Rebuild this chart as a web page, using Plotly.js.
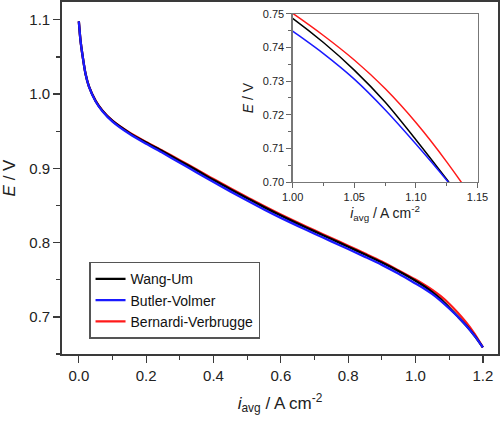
<!DOCTYPE html>
<html>
<head>
<meta charset="utf-8">
<script src="https://cdn.plot.ly/plotly-3.0.1.min.js"></script>
<style>
  html, body { margin: 0; padding: 0; background: #fff; }
  #chart { width: 500px; height: 423px; }
</style>
</head>
<body>
<div id="chart"></div>
<script>
// current density, A cm^-2
var iavg = [0, 0.005, 0.01, 0.02, 0.03, 0.05, 0.07, 0.1, 0.15, 0.2, 0.25, 0.3, 0.35, 0.4, 0.45, 0.5,
    0.55, 0.6, 0.65, 0.7, 0.75, 0.8, 0.85, 0.9, 0.95, 1.0, 1.025, 1.05, 1.075, 1.1, 1.125, 1.15, 1.175, 1.2];

// cell potential, V
var wangUm = [1.098, 1.072, 1.055, 1.027, 1.0103, 0.9906, 0.9777, 0.9638, 0.9478, 0.9348, 0.9226, 0.9100, 0.8973, 0.8843, 0.872, 0.8598,
    0.8478, 0.8364, 0.8256, 0.8151, 0.8048, 0.7944, 0.7839, 0.7732, 0.7615, 0.7487, 0.7415, 0.7333, 0.7238, 0.7126, 0.7008, 0.6886, 0.6749, 0.659];
var butlerVolmer = [1.098, 1.072, 1.055, 1.027, 1.010, 0.990, 0.977, 0.963, 0.9465, 0.933, 0.9205, 0.9075, 0.8945, 0.8815, 0.869, 0.8567,
    0.8447, 0.8333, 0.8225, 0.812, 0.8017, 0.7913, 0.7808, 0.770, 0.758, 0.7449, 0.7382, 0.7306, 0.7215, 0.7113, 0.7005, 0.6885, 0.6748, 0.659];
var bernardiVerbrugge = [1.098, 1.072, 1.055, 1.027, 1.0105, 0.991, 0.978, 0.9642, 0.9483, 0.9355, 0.9235, 0.911, 0.8985, 0.8855, 0.8732, 0.8612,
    0.8492, 0.8378, 0.827, 0.8165, 0.8062, 0.7958, 0.7853, 0.7745, 0.7625, 0.7502, 0.7436, 0.7363, 0.7278, 0.7177, 0.706, 0.6928, 0.6775, 0.659];

var seriesNames = ["Wang-Um", "Butler-Volmer", "Bernardi-Verbrugge"];
var seriesColors = ["#000000", "#1a1aff", "#ff1a1a"];
var seriesValues = [wangUm, butlerVolmer, bernardiVerbrugge];

var font = "Liberation Sans, Arial, sans-serif";
var frameColor = "#3a3a3a";

// red first, then black, blue on top (as in the figure)
var drawOrder = [2, 0, 1];
var traces = [];

drawOrder.forEach(function (k)
{
    traces.push({
        x: iavg,
        y: seriesValues[k],
        mode: "lines",
        type: "scatter",
        name: seriesNames[k],
        legendrank: k + 1,
        line: { color: seriesColors[k], width: 2.3, shape: "spline", smoothing: 0.8 },
        xaxis: "x",
        yaxis: "y"
    });
});

drawOrder.forEach(function (k)
{
    traces.push({
        x: iavg,
        y: seriesValues[k],
        mode: "lines",
        type: "scatter",
        name: seriesNames[k],
        showlegend: false,
        line: { color: seriesColors[k], width: 1.5, shape: "spline", smoothing: 0.8 },
        xaxis: "x2",
        yaxis: "y2"
    });
});

var xTitle = "<i>i</i><sub>avg</sub> / A cm<sup>-2</sup>";
var yTitle = "<i>E</i> / V";

var layout =
{
    width: 500,
    height: 423,
    margin: { l: 62, r: 2, t: 2, b: 69 },
    paper_bgcolor: "#fff",
    plot_bgcolor: "#fff",
    font: { family: font, color: "#222", size: 14 },
    showlegend: true,
    legend:
    {
        x: 0.062, y: 0.262, xanchor: "left", yanchor: "top",
        bgcolor: "#fff",
        bordercolor: "#555", borderwidth: 1.5,
        font: { family: font, size: 14, color: "#111" },
        itemwidth: 30
    },
    xaxis:
    {
        domain: [0, 1],
        range: [-0.05, 1.245],
        tickvals: [0, 0.2, 0.4, 0.6, 0.8, 1.0, 1.2],
        ticktext: ["0.0", "0.2", "0.4", "0.6", "0.8", "1.0", "1.2"],
        ticks: "outside", ticklen: 7, tickwidth: 1.3, tickcolor: frameColor,
        minor: { dtick: 0.1, tick0: 0, ticks: "outside", ticklen: 4, tickwidth: 1.2, tickcolor: frameColor },
        showgrid: false, zeroline: false,
        showline: true, linecolor: frameColor, linewidth: 1.8, mirror: true,
        tickfont: { size: 15 },
        title: { text: xTitle, font: { size: 17 }, standoff: 14 }
    },
    yaxis:
    {
        domain: [0, 1],
        range: [0.65, 1.124],
        tickvals: [0.7, 0.8, 0.9, 1.0, 1.1],
        ticktext: ["0.7", "0.8", "0.9", "1.0", "1.1"],
        ticks: "outside", ticklen: 7, tickwidth: 1.3, tickcolor: frameColor,
        minor: { dtick: 0.05, tick0: 0.65, ticks: "outside", ticklen: 4, tickwidth: 1.2, tickcolor: frameColor },
        showgrid: false, zeroline: false,
        showline: true, linecolor: frameColor, linewidth: 1.8, mirror: true,
        tickfont: { size: 15 },
        title: { text: yTitle, font: { size: 17 }, standoff: 12 }
    },
    xaxis2:
    {
        domain: [0.529, 0.953],
        anchor: "y2",
        range: [1.0, 1.15],
        tickvals: [1.0, 1.05, 1.1, 1.15],
        ticktext: ["1.00", "1.05", "1.10", "1.15"],
        ticks: "outside", ticklen: 5, tickwidth: 1, tickcolor: "#666",
        minor: { dtick: 0.025, tick0: 1.0, ticks: "outside", ticklen: 3, tickwidth: 1, tickcolor: "#666" },
        showgrid: false, zeroline: false,
        showline: true, linecolor: "#777", linewidth: 1.2, mirror: true,
        tickfont: { size: 11 },
        title: { text: xTitle, font: { size: 14 }, standoff: 4 }
    },
    yaxis2:
    {
        domain: [0.4886, 0.966],
        anchor: "x2",
        range: [0.70, 0.75],
        tickvals: [0.70, 0.71, 0.72, 0.73, 0.74, 0.75],
        ticktext: ["0.70", "0.71", "0.72", "0.73", "0.74", "0.75"],
        ticks: "outside", ticklen: 5, tickwidth: 1, tickcolor: "#666",
        minor: { dtick: 0.005, tick0: 0.70, ticks: "outside", ticklen: 3, tickwidth: 1, tickcolor: "#666" },
        showgrid: false, zeroline: false,
        showline: true, linecolor: "#777", linewidth: 1.2, mirror: true,
        tickfont: { size: 11 },
        title: { text: yTitle, font: { size: 14 }, standoff: 6 }
    }
};

var config = { staticPlot: true, displayModeBar: false };

Plotly.newPlot("chart", traces, layout, config);
</script>
</body>
</html>
